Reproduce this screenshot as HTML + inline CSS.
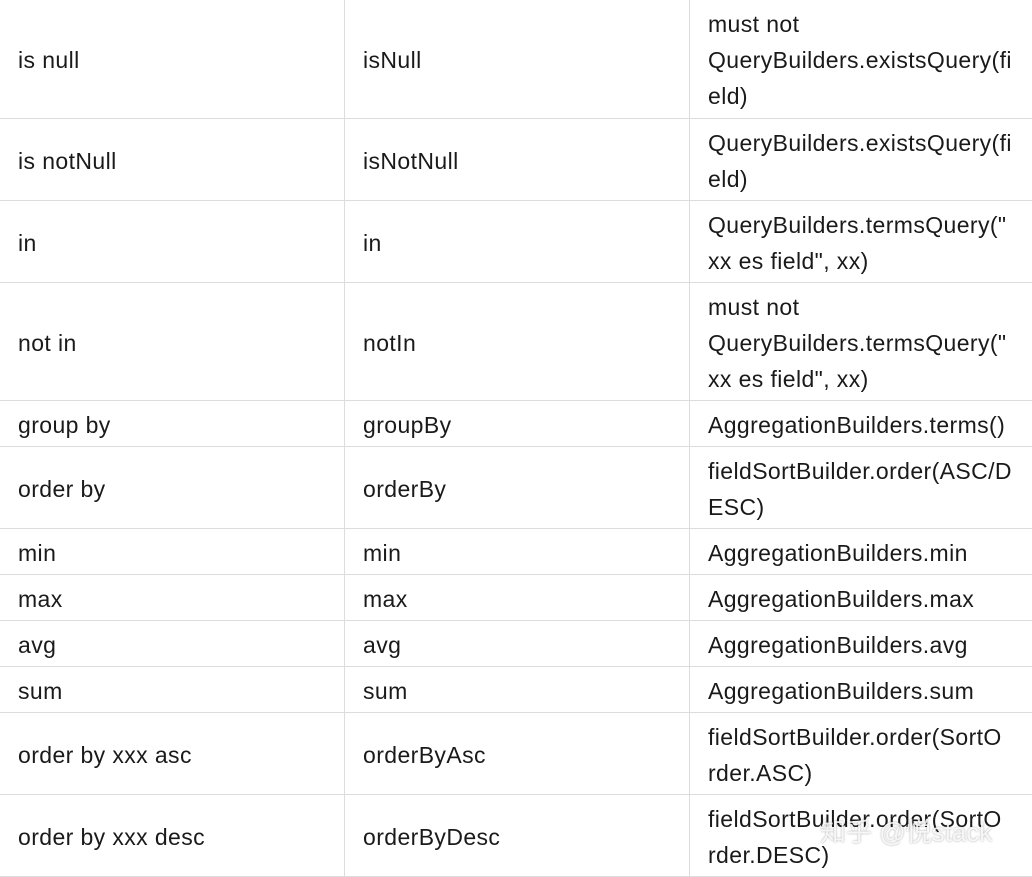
<!DOCTYPE html>
<html><head><meta charset="utf-8"><style>
html,body{margin:0;padding:0;background:#fff;width:1032px;height:874px;overflow:hidden;}
table{border-collapse:collapse;table-layout:fixed;width:1034px;position:absolute;left:-1px;top:-1px;font-family:"Liberation Sans","Noto Sans CJK SC",sans-serif;font-size:23px;letter-spacing:0.4px;color:#1a1a1a;}
td{border:1px solid #dcdcdc;padding:2px 0 0 18px;line-height:36px;white-space:nowrap;vertical-align:middle;overflow:hidden;}
col{width:345px}
.wm{position:absolute;left:820px;top:812px;font-family:"Liberation Sans","Noto Sans CJK SC",sans-serif;font-size:26px;color:rgba(255,255,255,0.85);text-shadow:0 0 2px rgba(0,0,0,0.35);}
</style></head><body>
<table>
<colgroup><col><col><col></colgroup>
<tr style="height:119px"><td>is null</td><td>isNull</td><td>must not<br>QueryBuilders.existsQuery(fi<br>eld)</td></tr>
<tr style="height:82px"><td>is notNull</td><td>isNotNull</td><td>QueryBuilders.existsQuery(fi<br>eld)</td></tr>
<tr style="height:82px"><td>in</td><td>in</td><td>QueryBuilders.termsQuery("<br>xx es field", xx)</td></tr>
<tr style="height:118px"><td>not in</td><td>notIn</td><td>must not<br>QueryBuilders.termsQuery("<br>xx es field", xx)</td></tr>
<tr style="height:46px"><td>group by</td><td>groupBy</td><td>AggregationBuilders.terms()</td></tr>
<tr style="height:82px"><td>order by</td><td>orderBy</td><td>fieldSortBuilder.order(ASC/D<br>ESC)</td></tr>
<tr style="height:46px"><td>min</td><td>min</td><td>AggregationBuilders.min</td></tr>
<tr style="height:46px"><td>max</td><td>max</td><td>AggregationBuilders.max</td></tr>
<tr style="height:46px"><td>avg</td><td>avg</td><td>AggregationBuilders.avg</td></tr>
<tr style="height:46px"><td>sum</td><td>sum</td><td>AggregationBuilders.sum</td></tr>
<tr style="height:82px"><td>order by xxx asc</td><td>orderByAsc</td><td>fieldSortBuilder.order(SortO<br>rder.ASC)</td></tr>
<tr style="height:82px"><td>order by xxx desc</td><td>orderByDesc</td><td>fieldSortBuilder.order(SortO<br>rder.DESC)</td></tr>
</table>
<div class="wm">知乎 @悦stack</div>
</body></html>
